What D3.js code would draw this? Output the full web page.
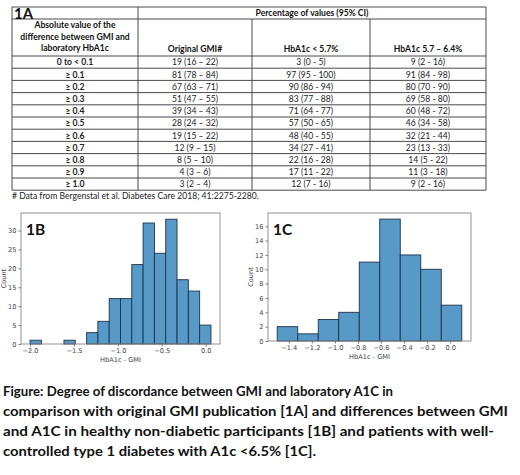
<!DOCTYPE html>
<html>
<head>
<meta charset="utf-8">
<script src="https://cdn.jsdelivr.net/npm/d3@7/dist/d3.min.js"></script>
<style>
  body { margin: 0; background: #fff; }
  svg { font-family: Lato, "Open Sans", sans-serif; }
</style>
</head>
<body>
<svg id="fig" width="520" height="475"></svg>
<script>
// table 1A
var rowLabels = ["0 to < 0.1", "≥ 0.1", "≥ 0.2", "≥ 0.3", "≥ 0.4", "≥ 0.5", "≥ 0.6", "≥ 0.7", "≥ 0.8", "≥ 0.9", "≥ 1.0"]
var colHeads = ["Original GMI#", "HbA1c < 5.7%", "HbA1c 5.7 – 6.4%"]
var originalGMI = ["19 (16 – 22)", "81 (78 – 84)", "67 (63 – 71)", "51 (47 – 55)", "39 (34 – 43)", "28 (24 – 32)", "19 (15 – 22)", "12 (9 – 15)", "8 (5 – 10)", "4 (3 – 6)", "3 (2 – 4)"]
var below57 = ["3 (0 - 5)", "97 (95 - 100)", "90 (86 - 94)", "83 (77 - 88)", "71 (64 - 77)", "57 (50 - 65)", "48 (40 - 55)", "34 (27 - 41)", "22 (16 - 28)", "17 (11 - 22)", "12 (7 - 16)"]
var from57to64 = ["9 (2 - 16)", "91 (84 - 98)", "80 (70 - 90)", "69 (58 - 80)", "60 (48 - 72)", "46 (34 - 58)", "32 (21 - 44)", "23 (13 - 33)", "14 (5 - 22)", "11 (3 - 18)", "9 (2 - 16)"]

// histogram 1B
var countsB = [1, 0, 0, 1, 0, 3, 6, 12, 12, 21, 32, 24, 33, 17, 14, 5]
var rangeB = [-2.0, 0.06]
var ticksB = [-2.0, -1.5, -1.0, -0.5, 0.0]
var yTicksB = [0, 5, 10, 15, 20, 25, 30]

// histogram 1C
var countsC = [2, 1, 3, 4, 11, 17, 12, 10, 5]
var rangeC = [-1.5, 0.1]
var ticksC = [-1.4, -1.2, -1.0, -0.8, -0.6, -0.4, -0.2, 0.0]
var yTicksC = [0, 2, 4, 6, 8, 10, 12, 14, 16]

var caption = [
  "Figure: Degree of discordance between GMI and laboratory A1C in",
  "comparison with original GMI publication [1A] and differences between GMI",
  "and A1C in healthy non-diabetic participants [1B] and patients with well-",
  "controlled type 1 diabetes with A1c <6.5% [1C]."
]
var captionWidths = [390, 505, 491, 313]

var svg = d3.select("#fig")

// ---------- table ----------
var colX = [12, 138, 252, 370, 486]
var tTop = 7, tHead1 = 19, tHead2 = 56, rowH = 12.2
var tBottom = tHead2 + rowH * rowLabels.length
var lineCol = "#4a4a4a"
var tbl = svg.append("g")

var rowY = d3.scaleBand().domain(d3.range(rowLabels.length)).range([tHead2, tBottom])

// horizontal lines
var hLines = [tTop, tHead1, tHead2].concat(rowLabels.map(function(d, i) { return rowY(i) + rowY.bandwidth() }))
tbl.selectAll("line.h").data(hLines).enter().append("line")
  .attr("class", "h")
  .attr("x1", colX[0]).attr("x2", colX[4])
  .attr("y1", function(d) { return d }).attr("y2", function(d) { return d })
  .attr("stroke", lineCol).attr("stroke-width", 1)

// vertical lines
tbl.selectAll("line.v").data(colX).enter().append("line")
  .attr("class", "v")
  .attr("x1", function(d) { return d }).attr("x2", function(d) { return d })
  .attr("y1", function(d, i) { return (i == 2 || i == 3) ? tHead1 : tTop })
  .attr("y2", tBottom)
  .attr("stroke", lineCol).attr("stroke-width", 1)

tbl.append("text").attr("x", 14).attr("y", 18.5)
  .attr("font-size", 15).attr("font-weight", "bold").attr("fill", "#111").text("1A")
tbl.append("text").attr("x", (colX[1] + colX[4]) / 2).attr("y", 16)
  .attr("text-anchor", "middle").attr("font-size", 8.6).attr("font-weight", "bold").attr("fill", "#111")
  .text("Percentage of values (95% CI)")

var firstHead = ["Absolute value of the", "difference between GMI and", "laboratory HbA1c"]
tbl.selectAll("text.fh").data(firstHead).enter().append("text")
  .attr("class", "fh")
  .attr("x", (colX[0] + colX[1]) / 2)
  .attr("y", function(d, i) { return 28 + i * 11.5 })
  .attr("text-anchor", "middle").attr("font-size", 8.6).attr("font-weight", "bold").attr("fill", "#111")
  .text(function(d) { return d })

tbl.selectAll("text.ch").data(colHeads).enter().append("text")
  .attr("class", "ch")
  .attr("x", function(d, i) { return (colX[i + 1] + colX[i + 2]) / 2 })
  .attr("y", 51.5)
  .attr("text-anchor", "middle").attr("font-size", 8.6).attr("font-weight", "bold").attr("fill", "#111")
  .text(function(d) { return d })

var cols = [rowLabels, originalGMI, below57, from57to64]
cols.forEach(function(col, c) {
  tbl.selectAll("text.c" + c).data(col).enter().append("text")
    .attr("class", "c" + c)
    .attr("x", (colX[c] + colX[c + 1]) / 2)
    .attr("y", function(d, i) { return rowY(i) + rowY.bandwidth() / 2 + 3.2 })
    .attr("text-anchor", "middle").attr("font-size", 8.6)
    .attr("font-weight", c == 0 ? "bold" : "normal").attr("fill", "#222")
    .text(function(d) { return d })
})

tbl.append("text").attr("x", 12).attr("y", tBottom + 9)
  .attr("font-size", 8.6).attr("fill", "#222")
  .text("# Data from Bergenstal et al. Diabetes Care 2018; 41:2275-2280.")

// ---------- histograms ----------
function histogram(opt) {
  var g = svg.append("g")
  var span = opt.range[1] - opt.range[0]
  var x = d3.scaleLinear()
    .domain([opt.range[0] - span * 0.05, opt.range[1] + span * 0.05])
    .range([opt.left, opt.right])
  var ymax = d3.max(opt.counts) * 1.05
  var y = d3.scaleLinear().domain([0, ymax]).range([opt.bottom, opt.top])
  var w = span / opt.counts.length
  var bins = opt.counts.map(function(c, i) {
    return { x0: opt.range[0] + i * w, x1: opt.range[0] + (i + 1) * w, n: c }
  })

  g.selectAll("rect").data(bins.filter(function(b) { return b.n > 0 })).enter().append("rect")
    .attr("x", function(b) { return x(b.x0) })
    .attr("width", function(b) { return x(b.x1) - x(b.x0) })
    .attr("y", function(b) { return y(b.n) })
    .attr("height", function(b) { return y(0) - y(b.n) })
    .attr("fill", "#5799c7").attr("stroke", "#1d3347").attr("stroke-width", 0.9)

  var xa = g.append("g").attr("transform", "translate(0," + opt.bottom + ")")
    .call(d3.axisBottom(x).tickValues(opt.xticks).tickSize(2.5).tickPadding(2)
      .tickFormat(function(d) { return d3.format(".1f")(d).replace("-", "−") }))
  var ya = g.append("g").attr("transform", "translate(" + opt.left + ",0)")
    .call(d3.axisLeft(y).tickValues(opt.yticks).tickSize(2.5).tickPadding(2))
  ;[xa, ya].forEach(function(a) {
    a.select(".domain").remove()
    a.selectAll("line").attr("stroke", "#444").attr("stroke-width", 0.7)
    a.selectAll("text").attr("font-size", 6.6).attr("fill", "#444").attr("font-family", "'DejaVu Sans', sans-serif")
  })

  g.append("rect")
    .attr("x", opt.left).attr("y", opt.top)
    .attr("width", opt.right - opt.left).attr("height", opt.bottom - opt.top)
    .attr("fill", "none").attr("stroke", "#888").attr("stroke-width", 0.9)

  g.append("text").attr("x", (opt.left + opt.right) / 2).attr("y", opt.bottom + 17.5)
    .attr("text-anchor", "middle").attr("font-size", 6.6).attr("fill", "#444")
    .attr("font-family", "'DejaVu Sans', sans-serif").text("HbA1c - GMI")
  g.append("text")
    .attr("transform", "translate(" + (opt.left - opt.ylabOff) + "," + ((opt.top + opt.bottom) / 2) + ") rotate(-90)")
    .attr("text-anchor", "middle").attr("font-size", 6.6).attr("fill", "#444")
    .attr("font-family", "'DejaVu Sans', sans-serif").text("Count")

  g.append("text").attr("x", opt.left + 5).attr("y", opt.top + 22)
    .attr("font-size", 15.5).attr("font-weight", "bold").attr("fill", "#111").text(opt.label)
}

histogram({ counts: countsB, range: rangeB, xticks: ticksB, yticks: yTicksB,
  left: 21, right: 220, top: 213, bottom: 344, ylabOff: 15, label: "1B" })
histogram({ counts: countsC, range: rangeC, xticks: ticksC, yticks: yTicksC,
  left: 268, right: 471, top: 213, bottom: 341, ylabOff: 15, label: "1C" })

// ---------- caption ----------
svg.selectAll("text.cap").data(caption).enter().append("text")
  .attr("class", "cap")
  .attr("x", 3)
  .attr("y", function(d, i) { return 395.5 + i * 20 })
  .attr("font-size", 14).attr("font-weight", "bold").attr("fill", "#111")
  .attr("textLength", function(d, i) { return captionWidths[i] })
  .attr("lengthAdjust", "spacingAndGlyphs")
  .text(function(d) { return d })
</script>
</body>
</html>
